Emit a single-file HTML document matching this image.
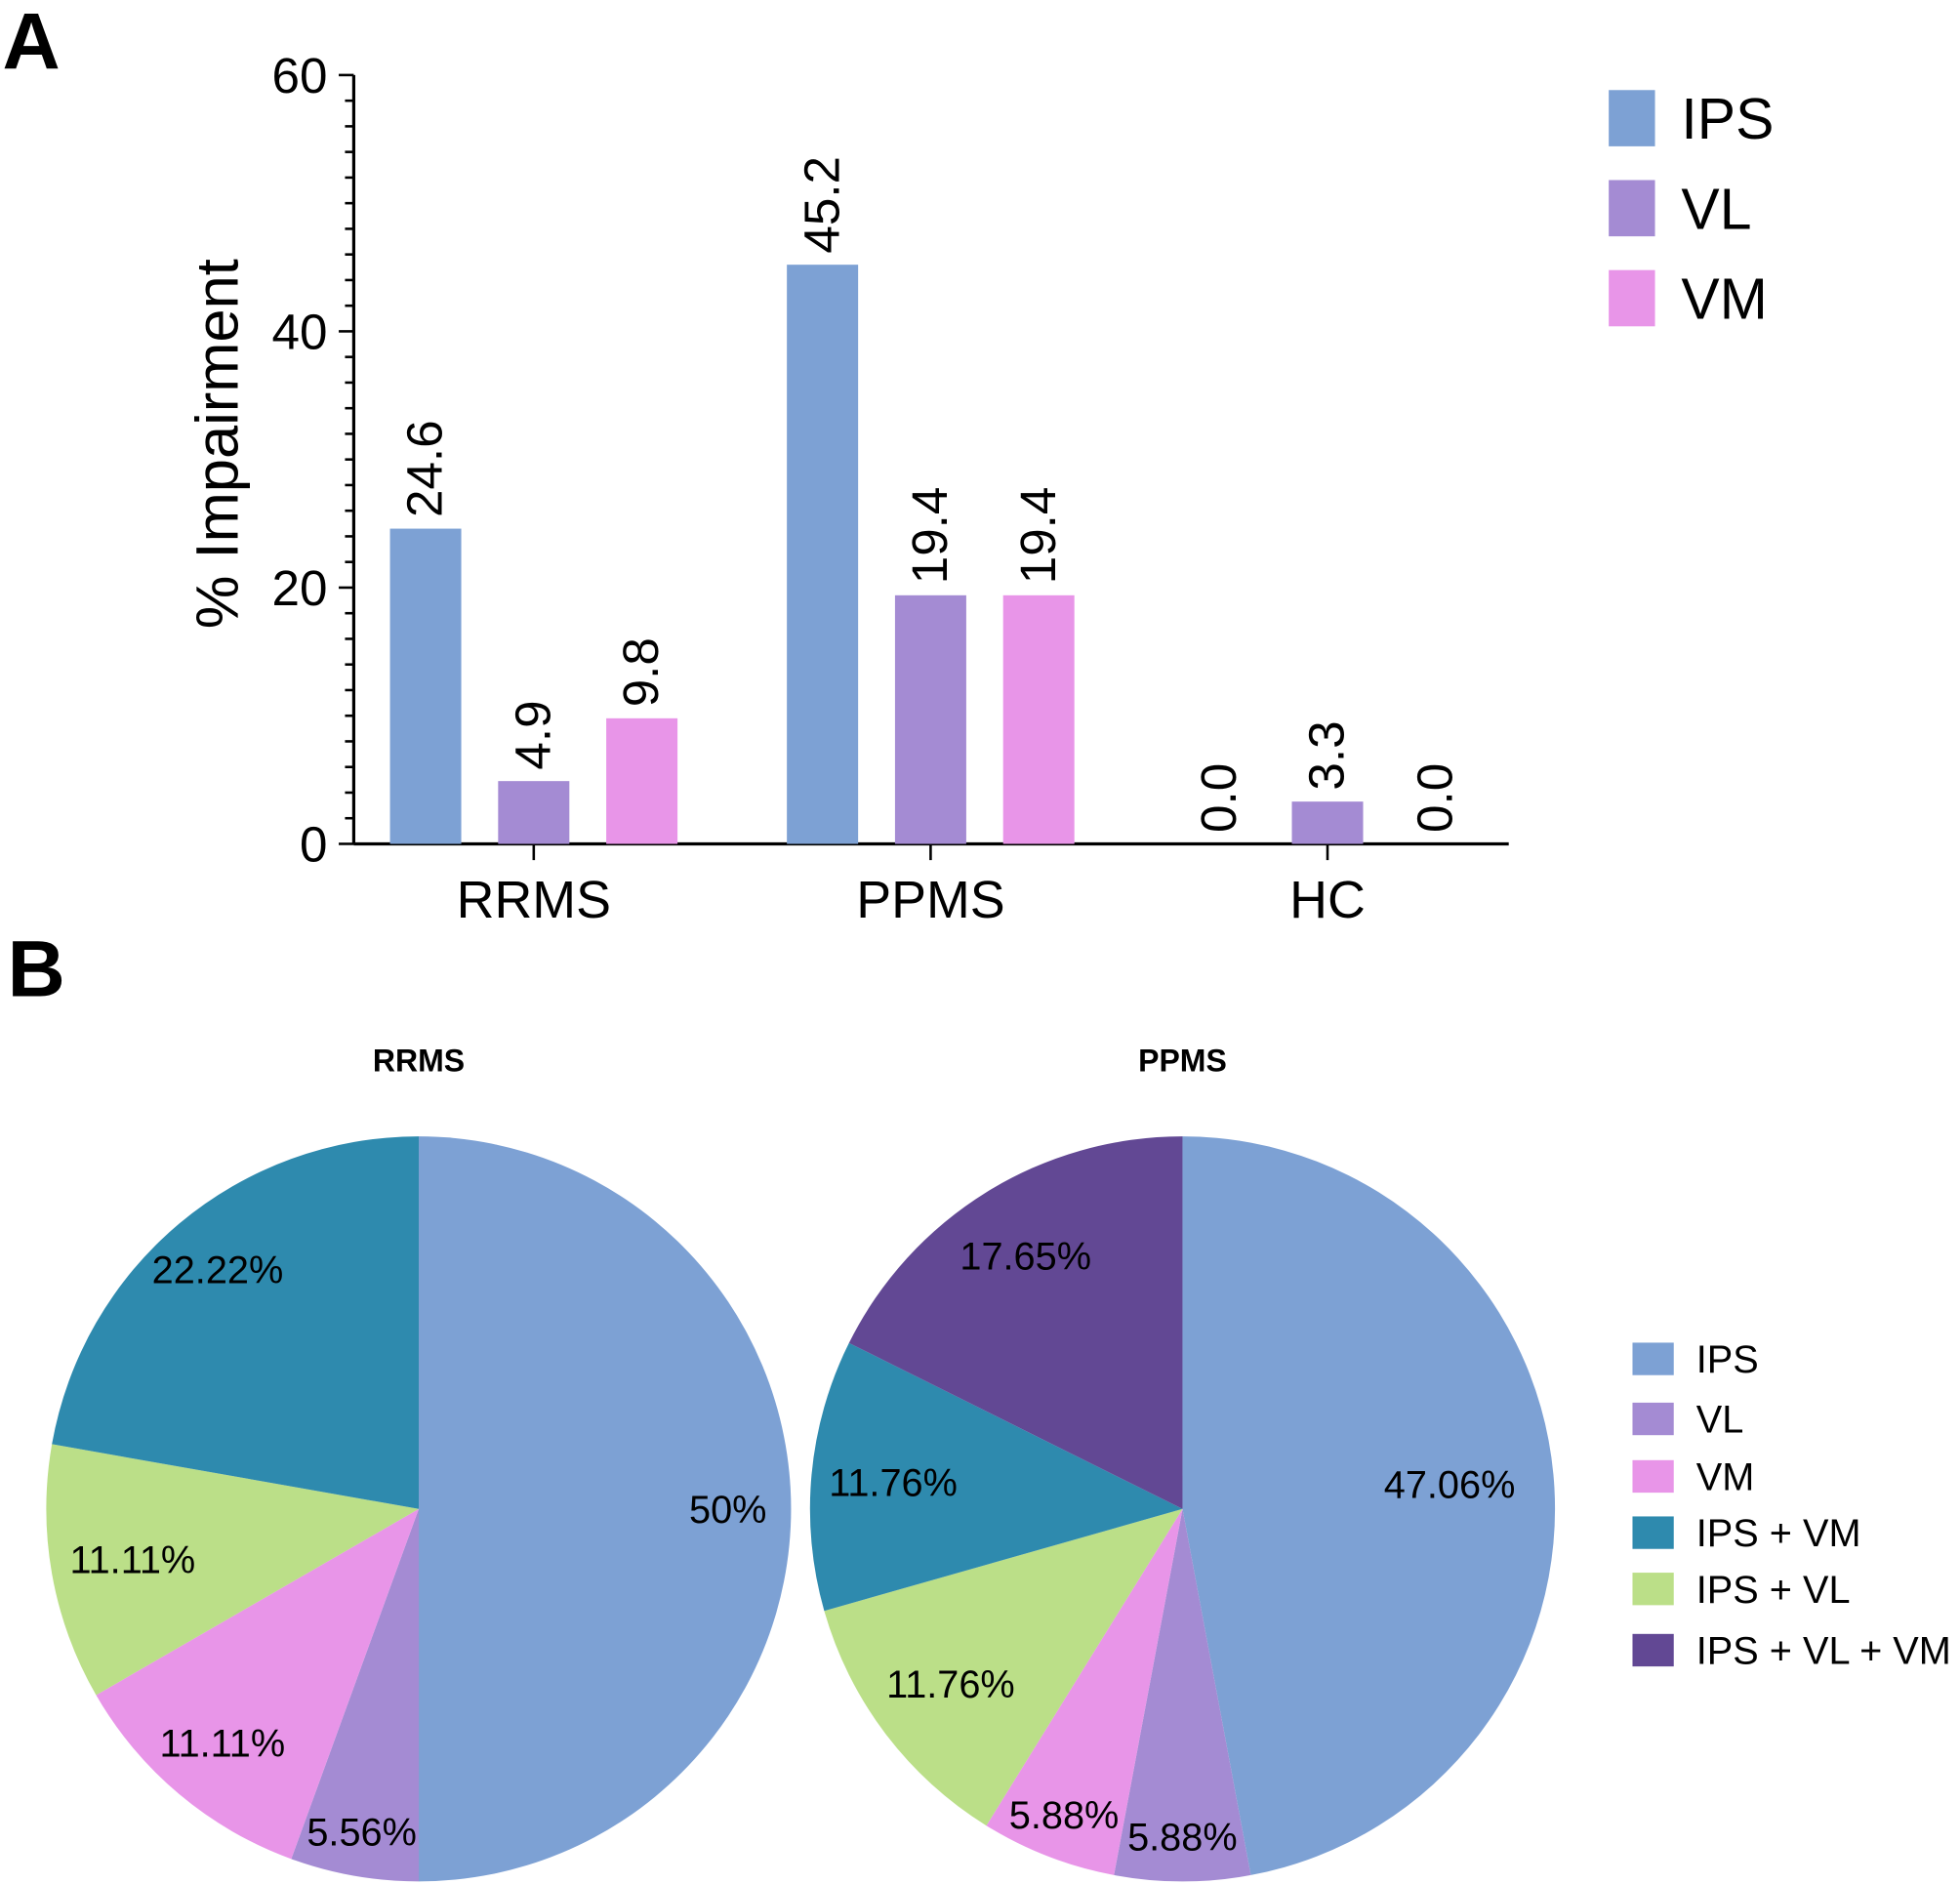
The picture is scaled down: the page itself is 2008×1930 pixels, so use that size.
<!DOCTYPE html>
<html><head><meta charset="utf-8">
<style>
html,body{margin:0;padding:0;background:#fff;}
svg{display:block;font-family:"Liberation Sans",Arial,sans-serif;}
</style></head>
<body>
<svg id="fig" width="2008" height="1930" viewBox="0 0 1568 1507" xmlns="http://www.w3.org/2000/svg">
<text x="2" y="55" font-size="64" font-weight="bold">A</text>
<text x="6" y="797" font-size="64" font-weight="bold">B</text>
<g id="bar"></g>
<g id="pies"></g>
</svg>
<script>
const NS="http://www.w3.org/2000/svg";
const categories=["RRMS","PPMS","HC"];
const seriesNames=["IPS","VL","VM"];
const ipsValues=[24.6,45.2,0.0];
const vlValues=[4.9,19.4,3.3];
const vmValues=[9.8,19.4,0.0];
const yTicks=[0,20,40,60];
const seriesColors=["#7da1d4","#a48bd3","#e895e8"];

const pieSliceNames=["IPS","VL","VM","IPS + VL","IPS + VM","IPS + VL + VM"];
const pieColors=["#7da1d4","#a48bd3","#e895e8","#bbdf88","#2e8aae","#624894"];
const rrmsPie=[50,5.56,11.11,11.11,22.22,0];
const ppmsPie=[47.06,5.88,5.88,11.76,11.76,17.65];
const legendOrder=["IPS","VL","VM","IPS + VM","IPS + VL","IPS + VL + VM"];

function mk(tag,attrs,parent,text){const e=document.createElementNS(NS,tag);for(const k in attrs)e.setAttribute(k,attrs[k]);if(text!==undefined)e.textContent=text;parent.appendChild(e);return e;}

const bar=document.getElementById('bar');
const x0=283,x1=1207,yBase=675,yTop=60,yMax=60;
const yS=v=>yBase-(v/yMax)*(yBase-yTop);
const groupCenter=i=>427+i*317.5;
const barW=57,barStep=86.5;
let ax=mk('line',{x1:x0,y1:yBase,x2:x0,y2:yTop,stroke:'#000','stroke-width':2.5},bar);

let xa=mk('line',{x1:x0,y1:yBase,x2:x1,y2:yBase,stroke:'#000','stroke-width':2.5},bar);

for(let v=0;v<=yMax;v+=2){
  const major=v%20===0;
  const t=mk('line',{x1:x0-(major?12:7),y1:yS(v),x2:x0,y2:yS(v),stroke:'#000','stroke-width':2},bar);
  
}
yTicks.forEach(v=>{
  const t=mk('text',{x:262,y:yS(v)+14,'font-size':40,'text-anchor':'end'},bar,String(v));
  
});
const yt=mk('text',{x:0,y:0,'font-size':48,'text-anchor':'middle',transform:'translate(190,355) rotate(-90)'},bar,'% Impairment');

const allSeries=[ipsValues,vlValues,vmValues];
categories.forEach((c,i)=>{
  const cx=groupCenter(i);
  const tk=mk('line',{x1:cx,y1:yBase,x2:cx,y2:yBase+13,stroke:'#000','stroke-width':2},bar);
  
  const lb=mk('text',{x:cx,y:734,'font-size':42,'text-anchor':'middle'},bar,c);
  
  allSeries.forEach((s,j)=>{
    const bx=cx+(j-1)*barStep-barW/2;
    const v=s[i];
    const r=mk('rect',{x:bx,y:yS(v),width:barW,height:yBase-yS(v),fill:seriesColors[j]},bar);
    
    
    const lx=bx+barW/2+13, ly=yS(v)-9;
    const vl=mk('text',{x:0,y:0,'font-size':40,transform:`translate(${lx},${ly}) rotate(-90)`},bar,v.toFixed(1));
    
  });
});
seriesNames.forEach((n,j)=>{
  const y=72+j*72;
  const r=mk('rect',{x:1287,y:y,width:37,height:45,fill:seriesColors[j]},bar);
  
  const t=mk('text',{x:1345,y:y+39,'font-size':46},bar,n);
  
});

const pies=document.getElementById('pies');
function drawPie(title,vals,cx,cy,R,labelFrac){
  const tt=mk('text',{x:cx,y:857,'font-size':25,'font-weight':'bold','text-anchor':'middle'},pies,title);
  
  const total=vals.reduce((a,b)=>a+b,0);
  let a=0;
  vals.forEach((v,i)=>{
    if(v<=0)return;
    const a0=a/total*2*Math.PI, a1=(a+v)/total*2*Math.PI; a+=v;
    const p0=[cx+R*Math.sin(a0),cy-R*Math.cos(a0)],p1=[cx+R*Math.sin(a1),cy-R*Math.cos(a1)];
    const large=(a1-a0)>Math.PI?1:0;
    const p=mk('path',{d:`M${cx},${cy}L${p0[0]},${p0[1]}A${R},${R} 0 ${large} 1 ${p1[0]},${p1[1]}Z`,fill:pieColors[i]},pies);
    
    
    const am=(a0+a1)/2, f=labelFrac[i];
    const lx=cx+R*f*Math.sin(am), ly=cy-R*f*Math.cos(am);
    const lab=(Math.round(v*100)/100)+'%';
    const t=mk('text',{x:lx,y:ly+11,'font-size':31,'text-anchor':'middle'},pies,lab);
    
  });
}
drawPie('RRMS',rrmsPie,335,1207,298,[0.83,0.88,0.82,0.78,0.84,0.8]);
drawPie('PPMS',ppmsPie,946,1207,298,[0.72,0.88,0.88,0.78,0.78,0.8]);
const legY=[1087,1135,1181,1226,1271,1320];
legendOrder.forEach((n,k)=>{
  const i=pieSliceNames.indexOf(n);
  const r=mk('rect',{x:1306,y:legY[k]-13,width:33,height:26,fill:pieColors[i]},pies);
  
  const t=mk('text',{x:1357,y:legY[k]+11,'font-size':31},pies,n);
  
});
</script>
</body></html>
